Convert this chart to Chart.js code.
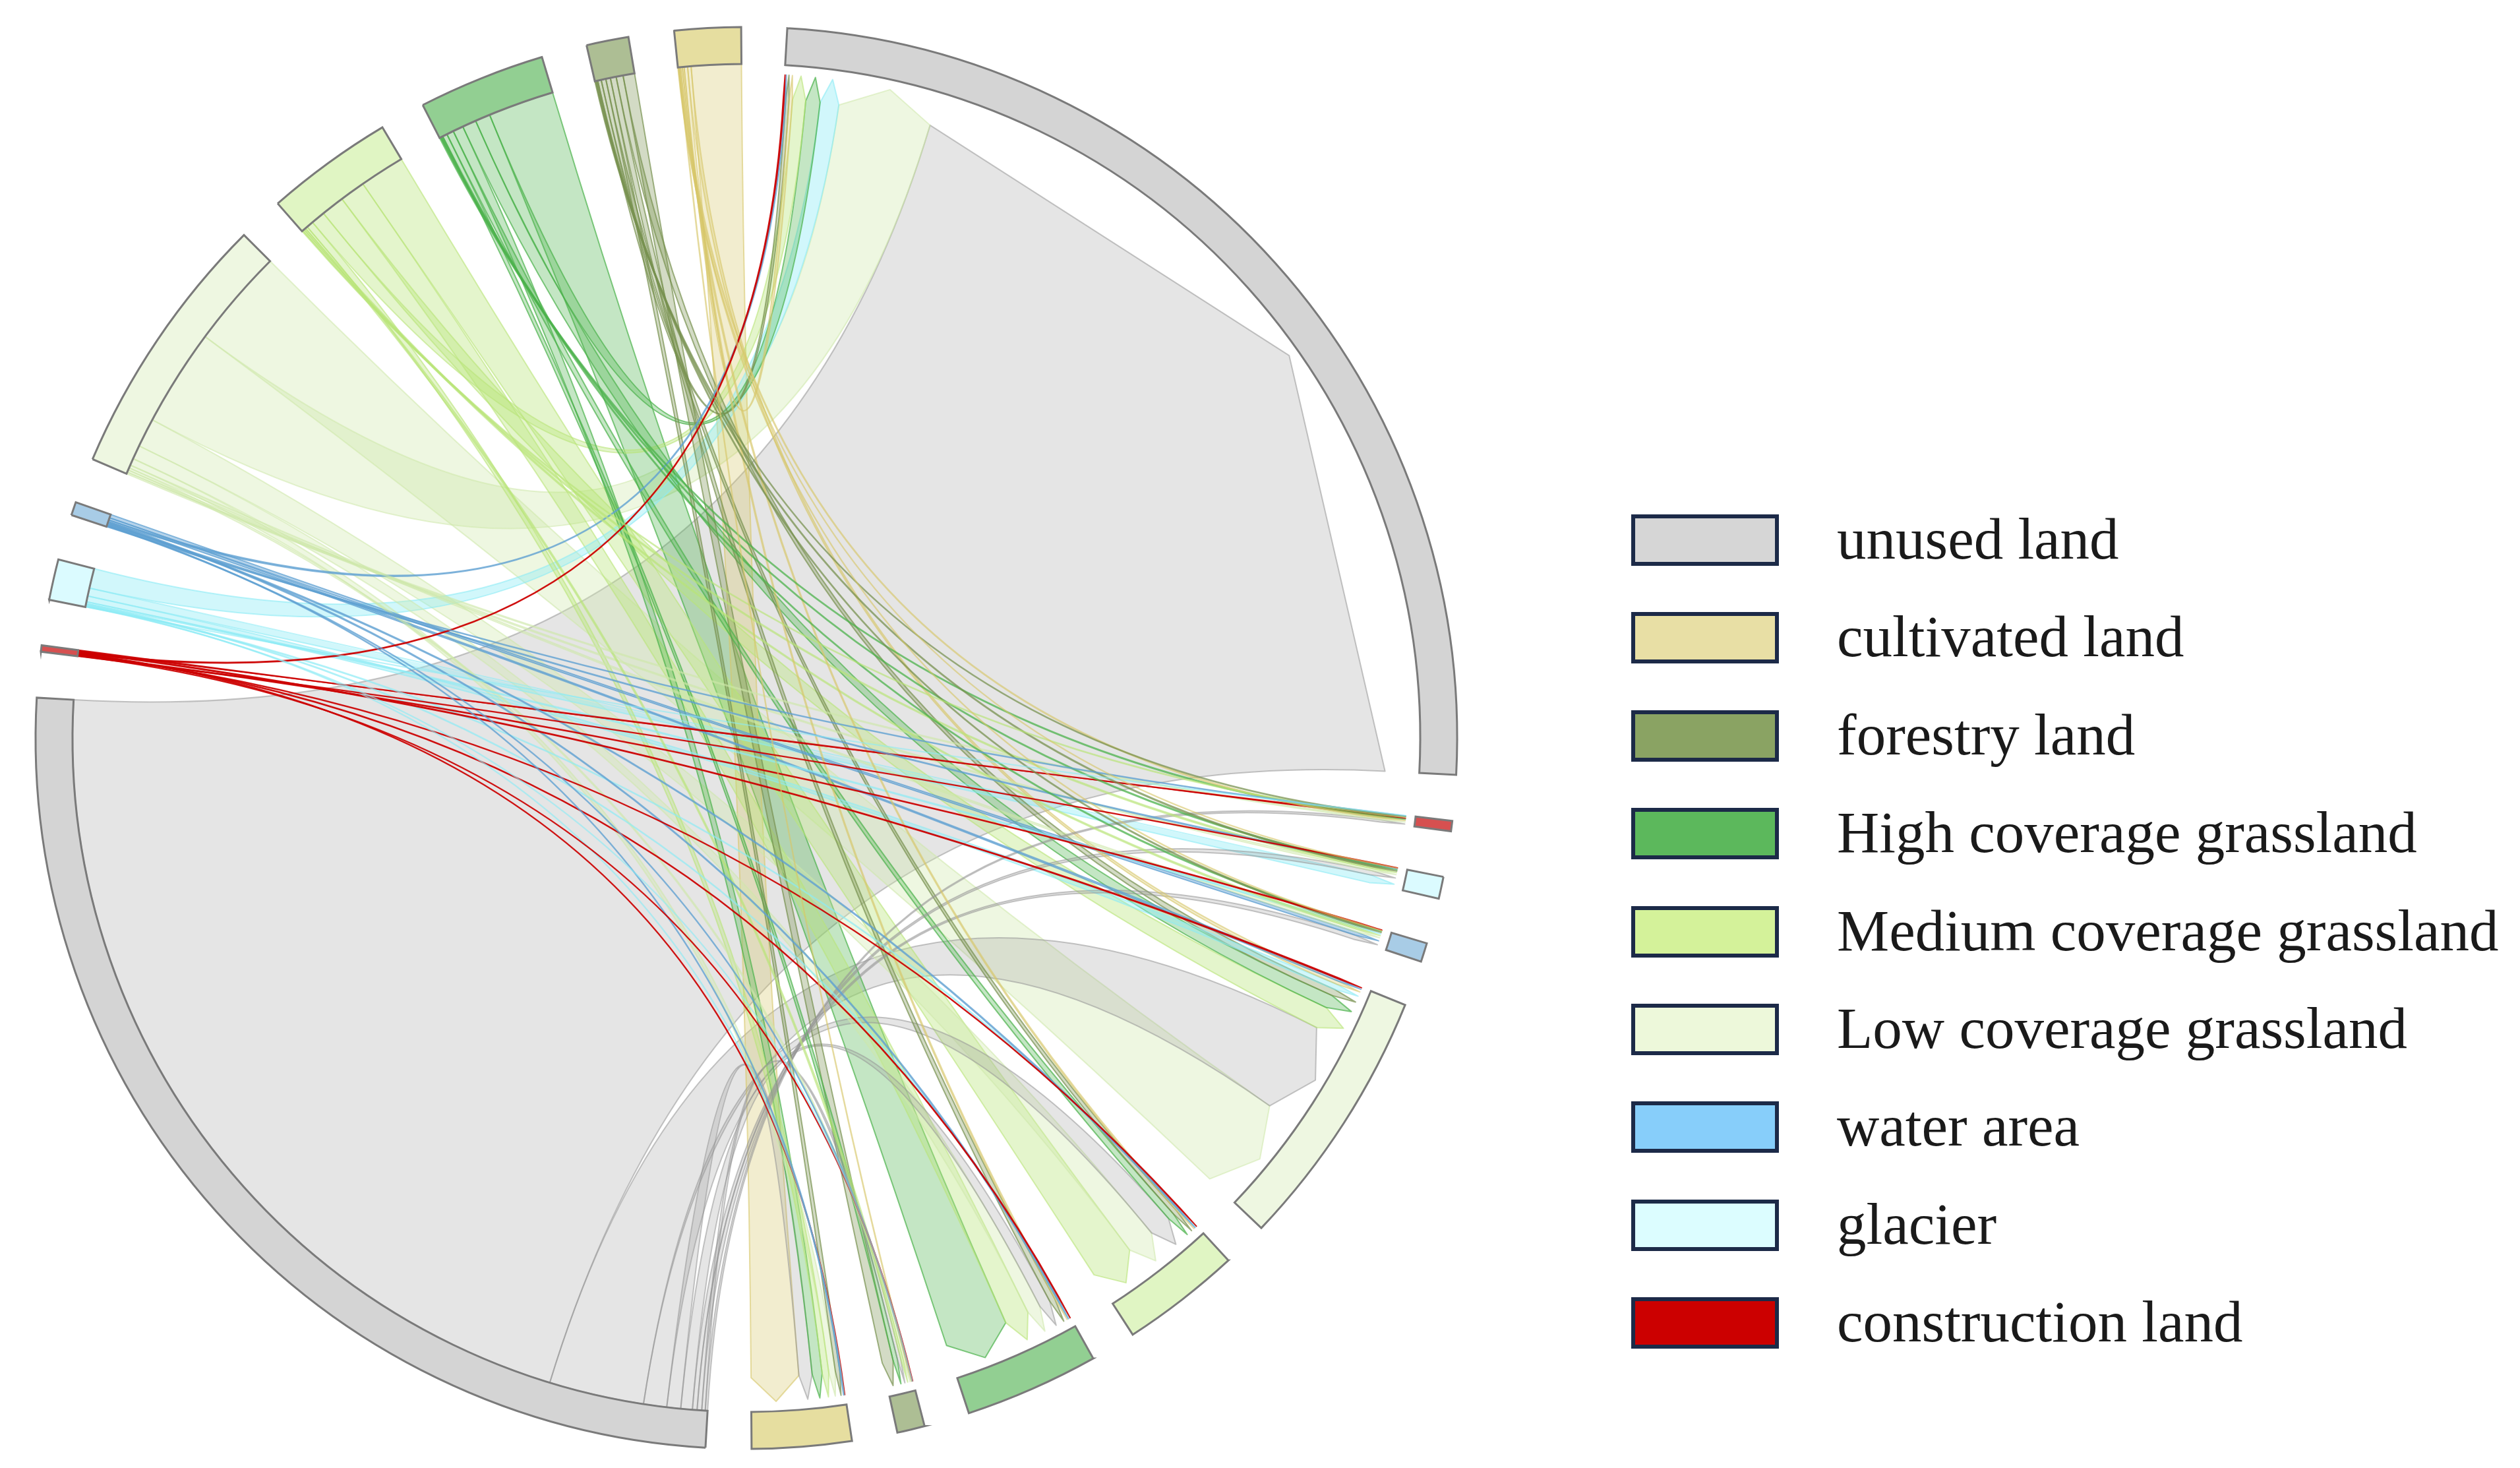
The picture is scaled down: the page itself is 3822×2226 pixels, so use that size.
<!DOCTYPE html>
<html><head><meta charset="utf-8">
<script src="https://cdn.jsdelivr.net/npm/chart.js@4.4.1/dist/chart.umd.min.js"></script>
<style>
html,body{margin:0;padding:0;background:#fff;}
#wrap{position:relative;width:3822px;height:2226px;overflow:hidden;background:#fff;}
#chartBox{position:absolute;left:0;top:0;width:2264px;height:2226px;}
.lg-row{position:absolute;left:2474px;height:78px;width:1340px;}
.lg-box{position:absolute;left:0;top:0;width:224px;height:78px;box-sizing:border-box;border:6px solid #1c2a48;}
.lg-text{position:absolute;left:312px;top:-2px;line-height:78px;font-family:"Palatino Linotype","Book Antiqua",Palatino,"Liberation Serif",serif;font-size:89px;color:#1a1a1a;white-space:nowrap;}
</style></head>
<body><div id="wrap"><div id="chartBox"><canvas id="c" width="2264" height="2226"></canvas></div><div id="legend"></div></div>
<script>
// Land-use classes in circle order (same order for both halves)
const CLASSES = ['unused land','construction land','glacier','water area','Low coverage grassland','Medium coverage grassland','High coverage grassland','forestry land','cultivated land'];
// Transfer amounts from each class (left half, earlier period) to each class (right half, later period), in CLASSES order
const FROM_UNUSED       = [76.5, 0.2, 0.4, 0.4, 8.2, 2.0, 1.0, 0.3, 1.2];
const FROM_CONSTRUCTION = [0.08, 0.1, 0.03, 0.05, 0.08, 0.05, 0.05, 0.03, 0.05];
const FROM_GLACIER      = [1.7, 0.02, 0.7, 0.15, 0.5, 0.1, 0.1, 0.03, 0.05];
const FROM_WATER        = [0.15, 0.05, 0.1, 0.3, 0.2, 0.1, 0.1, 0.05, 0.05];
const FROM_LOW          = [8.4, 0.15, 0.2, 0.25, 8.5, 2.5, 1.2, 0.2, 0.6];
const FROM_MEDIUM       = [1.2, 0.08, 0.15, 0.15, 2.0, 3.9, 2.2, 0.2, 0.6];
const FROM_HIGH         = [1.3, 0.1, 0.1, 0.1, 1.2, 0.6, 5.7, 0.4, 0.9];
const FROM_FORESTRY     = [0.3, 0.05, 0.1, 0.1, 0.6, 0.4, 0.5, 1.0, 0.4];
const FROM_CULTIVATED   = [0.3, 0.1, 0.03, 0.05, 0.3, 0.15, 0.15, 0.05, 4.3];
const LEGEND_ORDER = ['unused land','cultivated land','forestry land','High coverage grassland','Medium coverage grassland','Low coverage grassland','water area','glacier','construction land'];

// ---- styles ----
const LEGEND_COLORS = ['#d6d6d6','#cc0000','#dcfdff','#87cefa','#edf8da','#d4f29a','#5cb85c','#8aa363','#e8dfa5'];
const ARC_COLORS = ['#d4d4d4','#d65050','#dbfbff','#a8cce6','#eef7e1','#e0f5c3','#92cf92','#adbe94','#e6dea0'];
const RIBBON_RGB = [[150,150,150],[204,0,0],[140,235,245],[95,160,210],[205,232,170],[185,228,120],[75,178,75],[120,145,80],[215,198,105]];
const FILL_A = [0.25,0.85,0.4,0.45,0.35,0.38,0.33,0.33,0.32];
const STROKE_A = [0.55,0.9,0.6,0.75,0.55,0.6,0.7,0.7,0.6];
const GAP_DEG = 3.72, OUTER_R = 1078, INNER_R = 1022, TARGET_GAP = 52, ARROW = 37;

const MATRIX = [FROM_UNUSED, FROM_CONSTRUCTION, FROM_GLACIER, FROM_WATER, FROM_LOW, FROM_MEDIUM, FROM_HIGH, FROM_FORESTRY, FROM_CULTIVATED];
const N = CLASSES.length;
const rowSum = MATRIX.map(r => r.reduce((a, b) => a + b, 0));
const colSum = CLASSES.map((_, j) => MATRIX.reduce((a, r) => a + r[j], 0));
const total = rowSum.reduce((a, b) => a + b, 0) * 2;
const gapVal = GAP_DEG * total / (360 - 2 * N * GAP_DEG);

// right half = later period (targets), left half = earlier period (sources)
const segValues = [...colSum, ...rowSum];
const data = [], bg = [], bc = [], bw = [], labels = [];
segValues.forEach((v, s) => {
  const c = s % N;
  data.push(v); bg.push(ARC_COLORS[c]); bc.push('#7a7a7a'); bw.push(3); labels.push(CLASSES[c]);
  data.push(gapVal); bg.push('rgba(0,0,0,0)'); bc.push('rgba(0,0,0,0)'); bw.push(0); labels.push('');
});

const rgba = (c, a) => `rgba(${c[0]},${c[1]},${c[2]},${a})`;

const ribbonPlugin = {
  id: 'ribbons',
  beforeDatasetsDraw(chart) {
    const arcs = chart.getDatasetMeta(0).data;
    const ctx = chart.ctx;
    const src = [], tgt = [];
    for (let i = 0; i < N; i++) {
      const el = arcs[2 * (N + i)];
      const k = (el.endAngle - el.startAngle) / rowSum[i];
      const order = [...Array(N).keys()].sort((a, b) => MATRIX[i][a] - MATRIX[i][b] || a - b);
      let a = el.startAngle; src[i] = [];
      order.forEach(j => { src[i][j] = [a, a + MATRIX[i][j] * k]; a += MATRIX[i][j] * k; });
    }
    for (let j = 0; j < N; j++) {
      const el = arcs[2 * j];
      const k = (el.endAngle - el.startAngle) / colSum[j];
      const order = [...Array(N).keys()].sort((a, b) => MATRIX[a][j] - MATRIX[b][j] || a - b);
      let a = el.startAngle; tgt[j] = [];
      order.forEach(i => { tgt[j][i] = [a, a + MATRIX[i][j] * k]; a += MATRIX[i][j] * k; });
    }
    const links = [];
    for (let i = 0; i < N; i++) for (let j = 0; j < N; j++) if (MATRIX[i][j] > 0) links.push([i, j]);
    links.sort((p, q) => MATRIX[q[0]][q[1]] - MATRIX[p[0]][p[1]]);
    const el0 = arcs[0];
    const cx = el0.x, cy = el0.y, rs = el0.innerRadius;
    const rt = rs - TARGET_GAP, rtip = rt + ARROW;
    ctx.save();
    ctx.lineJoin = 'round';
    links.forEach(([i, j]) => {
      const [s0, s1] = src[i][j];
      const [t0, t1] = tgt[j][i];
      const tm = (t0 + t1) / 2;
      ctx.beginPath();
      ctx.moveTo(cx + rs * Math.cos(s0), cy + rs * Math.sin(s0));
      ctx.arc(cx, cy, rs, s0, s1);
      ctx.quadraticCurveTo(cx, cy, cx + rt * Math.cos(t0), cy + rt * Math.sin(t0));
      ctx.lineTo(cx + rtip * Math.cos(tm), cy + rtip * Math.sin(tm));
      ctx.lineTo(cx + rt * Math.cos(t1), cy + rt * Math.sin(t1));
      ctx.quadraticCurveTo(cx, cy, cx + rs * Math.cos(s0), cy + rs * Math.sin(s0));
      ctx.closePath();
      ctx.fillStyle = rgba(RIBBON_RGB[i], FILL_A[i]);
      ctx.fill();
      ctx.lineWidth = 2;
      ctx.strokeStyle = rgba(RIBBON_RGB[i], STROKE_A[i]);
      ctx.stroke();
    });
    ctx.restore();
  }
};

new Chart(document.getElementById('c'), {
  type: 'doughnut',
  data: { labels, datasets: [{ data, backgroundColor: bg, borderColor: bc, borderWidth: bw, borderJoinStyle: 'miter' }] },
  options: {
    responsive: false, animation: false, events: [], devicePixelRatio: 1,
    rotation: 3.3, radius: OUTER_R, cutout: (INNER_R / OUTER_R * 100) + '%',
    layout: { padding: { top: 12 } },
    plugins: { legend: { display: false }, tooltip: { enabled: false } }
  },
  plugins: [ribbonPlugin]
});

// legend
const lg = document.getElementById('legend');
LEGEND_ORDER.forEach((name, k) => {
  const c = CLASSES.indexOf(name);
  const row = document.createElement('div');
  row.className = 'lg-row';
  row.style.top = (780 + k * 148.4) + 'px';
  row.innerHTML = `<div class="lg-box" style="background:${LEGEND_COLORS[c]}"></div><div class="lg-text">${name}</div>`;
  lg.appendChild(row);
});
</script>
</body></html>
